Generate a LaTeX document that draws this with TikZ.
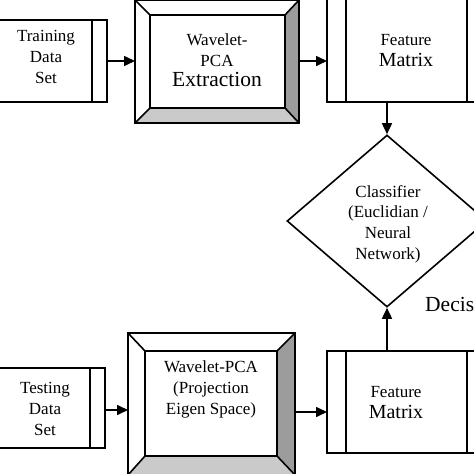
\documentclass[tikz,border=0pt]{standalone}
\usepackage{fontspec}
\setmainfont{Liberation Serif}
\usetikzlibrary{arrows.meta,shapes.geometric}
\definecolor{darkbevel}{HTML}{9C9C9C}
\definecolor{lightbevel}{HTML}{CACACA}
\tikzset{
  ln/.style={line width=1.6pt},
  boxshape/.style={ln, draw, rectangle, inner sep=0pt, outer sep=0pt, fill=white},
  txt/.style={align=center, inner sep=0pt, font=\fontsize{17}{21}\selectfont},
  big/.style={font=\fontsize{21.5}{24}\selectfont},
  arr/.style={ln, -{Triangle[length=11pt,width=10pt]}},
}
\newcommand{\bevelbox}[9]{%
  % #1 name, #2 x1, #3 y1, #4 x2, #5 y2 (outer), #6 ix1, #7 iy1, #8 ix2, #9 iy2 (inner)
  \fill[white] (#2,#3) rectangle (#4,#5);
  \fill[darkbevel] (#4,#3) -- (#8,#7) -- (#8,#9) -- (#4,#5) -- cycle;
  \fill[lightbevel] (#2,#5) -- (#6,#9) -- (#8,#9) -- (#4,#5) -- cycle;
  \draw[ln] (#2,#3) -- (#6,#7) (#4,#3) -- (#8,#7) (#2,#5) -- (#6,#9) (#4,#5) -- (#8,#9);
  \draw[ln] (#6,#7) rectangle (#8,#9);
  \node[ln, draw, rectangle, inner sep=0pt, outer sep=0pt, minimum width={#4-#2}, minimum height={#5-#3}] (#1) at ({(#2+#4)/2},{(#3+#5)/2}) {};
}
\begin{document}
\begin{tikzpicture}[x=1pt,y=-1pt]
\useasboundingbox (0,0) rectangle (474,474);

% ---------- top row ----------
\node[boxshape, minimum width=109pt, minimum height=82pt] (train) at (52.5,61) {};
\draw[ln] (92,20) -- (92,102);
\node[txt] (traint) at (46,57) {Training\\Data\\Set};

\bevelbox{wav1}{135}{0}{299}{123}{150}{15}{285}{108}
\node[txt] (wav1t) at (217,60) {Wavelet-\\PCA\\[-1pt]{\fontsize{21.5}{24}\selectfont Extraction}};

\node[boxshape, minimum width=163pt, minimum height=106pt] (feat1) at (408.5,49) {};
\draw[ln] (346,-4) -- (346,102) (467,-4) -- (467,102);
\node[txt] (feat1t) at (406,51) {Feature\\{\fontsize{20}{22}\selectfont Matrix}};

% ---------- diamond ----------
\node[ln, draw, diamond, inner sep=0pt, minimum width=200pt, minimum height=172pt] (dia) at (387,221) {};
\node[txt, font=\fontsize{17}{20.7}\selectfont] (diat) at (388,224) {Classifier\\(Euclidian /\\Neural\\Network)};
\node[anchor=west, inner sep=0pt, big] (dec) at (425,304) {Decision};

% ---------- bottom row ----------
\node[boxshape, minimum width=107pt, minimum height=80pt] (test) at (51.5,408) {};
\draw[ln] (90,368) -- (90,448);
\node[txt] (testt) at (45,409) {Testing\\Data\\Set};

\bevelbox{wav2}{128}{333}{295}{475}{145}{351}{277}{456}
\node[txt] (wav2t) at (211,389) {Wavelet-PCA\\(Projection\\Eigen Space)};

\node[boxshape, minimum width=163pt, minimum height=102pt] (feat2) at (408.5,402) {};
\draw[ln] (346,351) -- (346,453) (467,351) -- (467,453);
\node[txt] (feat2t) at (396,403) {Feature\\{\fontsize{20}{22}\selectfont Matrix}};

% ---------- connectors ----------
\draw[arr] (train.east) -- (train.east -| wav1.west);
\draw[arr] (wav1.east |- train.east) -- (train.east -| feat1.west);
\draw[arr] (feat1.south -| dia.north) -- (dia.north);
\draw[arr] (test.east |- 0,410) -- (wav2.west |- 0,410);
\draw[arr] (wav2.east |- 0,412) -- (feat2.west |- 0,412);
\draw[arr] (feat2.north -| dia.south) -- (dia.south);
\end{tikzpicture}
\end{document}
